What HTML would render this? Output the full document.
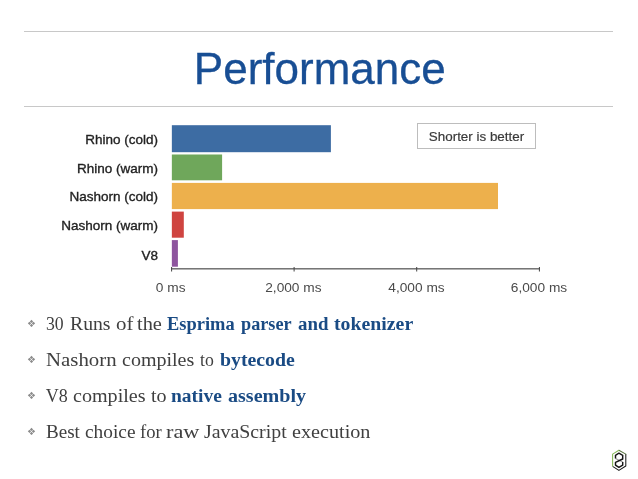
<!DOCTYPE html>
<html><head><meta charset="utf-8">
<style>
html,body{margin:0;padding:0;background:#fff;}
body{width:638px;height:479px;position:relative;overflow:hidden;font-family:"Liberation Sans",sans-serif;}
.hr{position:absolute;left:24px;width:589px;height:1px;background:#c8c8c8;}
#title{position:absolute;left:0.8px;width:638px;top:44px;text-align:center;font-size:44px;line-height:50px;color:#184e94;-webkit-text-stroke:0.3px #184e94;white-space:nowrap;}
.lab{position:absolute;right:480px;font-size:13.5px;line-height:16px;color:#222;-webkit-text-stroke:0.35px #222;white-space:nowrap;text-align:right;}
.tl{position:absolute;top:279.5px;width:100px;margin-left:-50px;text-align:center;font-size:13.7px;line-height:16px;color:#4a4a4a;white-space:nowrap;}
#box{position:absolute;left:417px;top:123px;width:117px;height:24px;border:1px solid #bdbdbd;font-size:13.4px;line-height:26.5px;text-align:center;color:#3a3a3a;-webkit-text-stroke:0.2px #3a3a3a;white-space:nowrap;}
.ln{position:absolute;left:0;width:638px;height:24px;font-family:"Liberation Serif",serif;font-size:18px;line-height:24px;white-space:nowrap;}
.ln span{position:absolute;top:0;display:block;transform-origin:0 0;}
.ln .r{color:#404040;}
.ln .b{color:#1a4b84;font-weight:bold;}
.bul{position:absolute;left:21.4px;width:20px;text-align:center;font-size:10px;line-height:12px;color:#8c8c8c;font-family:"DejaVu Sans",sans-serif;}
#chart{position:absolute;left:0;top:0;}
</style></head><body>
<div class="hr" style="top:31px"></div>
<div class="hr" style="top:106px"></div>
<div id="title">Performance</div>

<svg id="chart" width="638" height="300" viewBox="0 0 638 300">
<rect x="171.85" y="125.2" width="159.05" height="27" fill="#3d6ca3"/>
<rect x="171.85" y="154.5" width="50.25" height="25.8" fill="#6fa75b"/>
<rect x="171.85" y="182.9" width="326.15" height="26.2" fill="#edb04c"/>
<rect x="171.85" y="211.6" width="11.95" height="26.1" fill="#cf4440"/>
<rect x="171.85" y="240.1" width="6.05" height="26.6" fill="#8e559e"/>
<rect x="171.2" y="268.2" width="368.7" height="1.25" fill="#555"/>
<rect x="171.1" y="267" width="1" height="4.5" fill="#444"/>
<rect x="293.6" y="267" width="1" height="4.5" fill="#444"/>
<rect x="416.2" y="267" width="1" height="4.5" fill="#444"/>
<rect x="538.9" y="267" width="1" height="4.5" fill="#444"/>
</svg>

<div class="lab" style="top:132px">Rhino (cold)</div>
<div class="lab" style="top:161px">Rhino (warm)</div>
<div class="lab" style="top:189px">Nashorn (cold)</div>
<div class="lab" style="top:218px">Nashorn (warm)</div>
<div class="lab" style="top:247.5px">V8</div>

<div class="tl" style="left:170.7px">0 ms</div>
<div class="tl" style="left:293.4px">2,000 ms</div>
<div class="tl" style="left:416.5px">4,000 ms</div>
<div class="tl" style="left:539px">6,000 ms</div>

<div id="box">Shorter is better</div>

<div class="bul" style="top:317.8px">❖</div>
<div class="bul" style="top:353.8px">❖</div>
<div class="bul" style="top:389.8px">❖</div>
<div class="bul" style="top:425.8px">❖</div>


<div class="ln" style="top:312.3px">
<span class="r" style="left:45.80px;transform:scaleX(0.9833)">30</span> 
<span class="r" style="left:70.00px;transform:scaleX(1.0946)">Runs</span> 
<span class="r" style="left:116.00px;transform:scaleX(1.1600)">of</span> 
<span class="r" style="left:136.50px;transform:scaleX(1.1318)">the</span> 
<span class="b" style="left:166.80px;transform:scaleX(1.0242)">Esprima</span> 
<span class="b" style="left:241.00px;transform:scaleX(1.0120)">parser</span> 
<span class="b" style="left:297.50px;transform:scaleX(1.0483)">and</span> 
<span class="b" style="left:333.50px;transform:scaleX(1.1000)">tokenizer</span> 
</div>
<div class="ln" style="top:348.3px">
<span class="r" style="left:45.70px;transform:scaleX(1.1574)">Nashorn</span> 
<span class="r" style="left:122.00px;transform:scaleX(1.1123)">compiles</span> 
<span class="r" style="left:199.70px;transform:scaleX(0.9857)">to</span> 
<span class="b" style="left:220.40px;transform:scaleX(1.0985)">bytecode</span> 
</div>
<div class="ln" style="top:384.3px">
<span class="r" style="left:45.80px;transform:scaleX(1.0000)">V8</span> 
<span class="r" style="left:73.30px;transform:scaleX(1.1169)">compiles</span> 
<span class="r" style="left:151.40px;transform:scaleX(1.1143)">to</span> 
<span class="b" style="left:171.20px;transform:scaleX(1.0830)">native</span> 
<span class="b" style="left:227.90px;transform:scaleX(1.1143)">assembly</span> 
</div>
<div class="ln" style="top:420.3px">
<span class="r" style="left:46.30px;transform:scaleX(1.0594)">Best</span> 
<span class="r" style="left:85.00px;transform:scaleX(1.0745)">choice</span> 
<span class="r" style="left:140.30px;transform:scaleX(1.0333)">for</span> 
<span class="r" style="left:166.20px;transform:scaleX(1.2370)">raw</span> 
<span class="r" style="left:204.40px;transform:scaleX(1.1027)">JavaScript</span> 
<span class="r" style="left:291.80px;transform:scaleX(1.1214)">execution</span> 
</div>
<svg style="position:absolute;left:0;top:0" width="638" height="479" viewBox="0 0 638 479">
<path d="M625.8 454.1 V466 L618.9 470.4 L612.6 466.4" fill="none" stroke="#1c1c1c" stroke-width="1.05" stroke-linejoin="round"/>
<path d="M618.9 450.2 L625.8 454.1" fill="none" stroke="#5d7745" stroke-width="1.05" stroke-linecap="round"/>
<path d="M618.9 450.2 L612.6 454.1 V466.2" fill="none" stroke="#86b85a" stroke-width="1.1" stroke-linejoin="round"/>
<path d="M615.5 458.4 V455.3 L618.9 453.2 L622.7 455.3 V459 L615.5 462.4 V465.2 L618.9 467.3 L622.7 465.2 V462.1" fill="none" stroke="#151515" stroke-width="1.45" stroke-linejoin="round"/>
<path d="M615.5 458.4 L622.7 462.1" fill="none" stroke="#1c1c1c" stroke-width="1.1" stroke-opacity="0.45"/>
</svg>
</body></html>
